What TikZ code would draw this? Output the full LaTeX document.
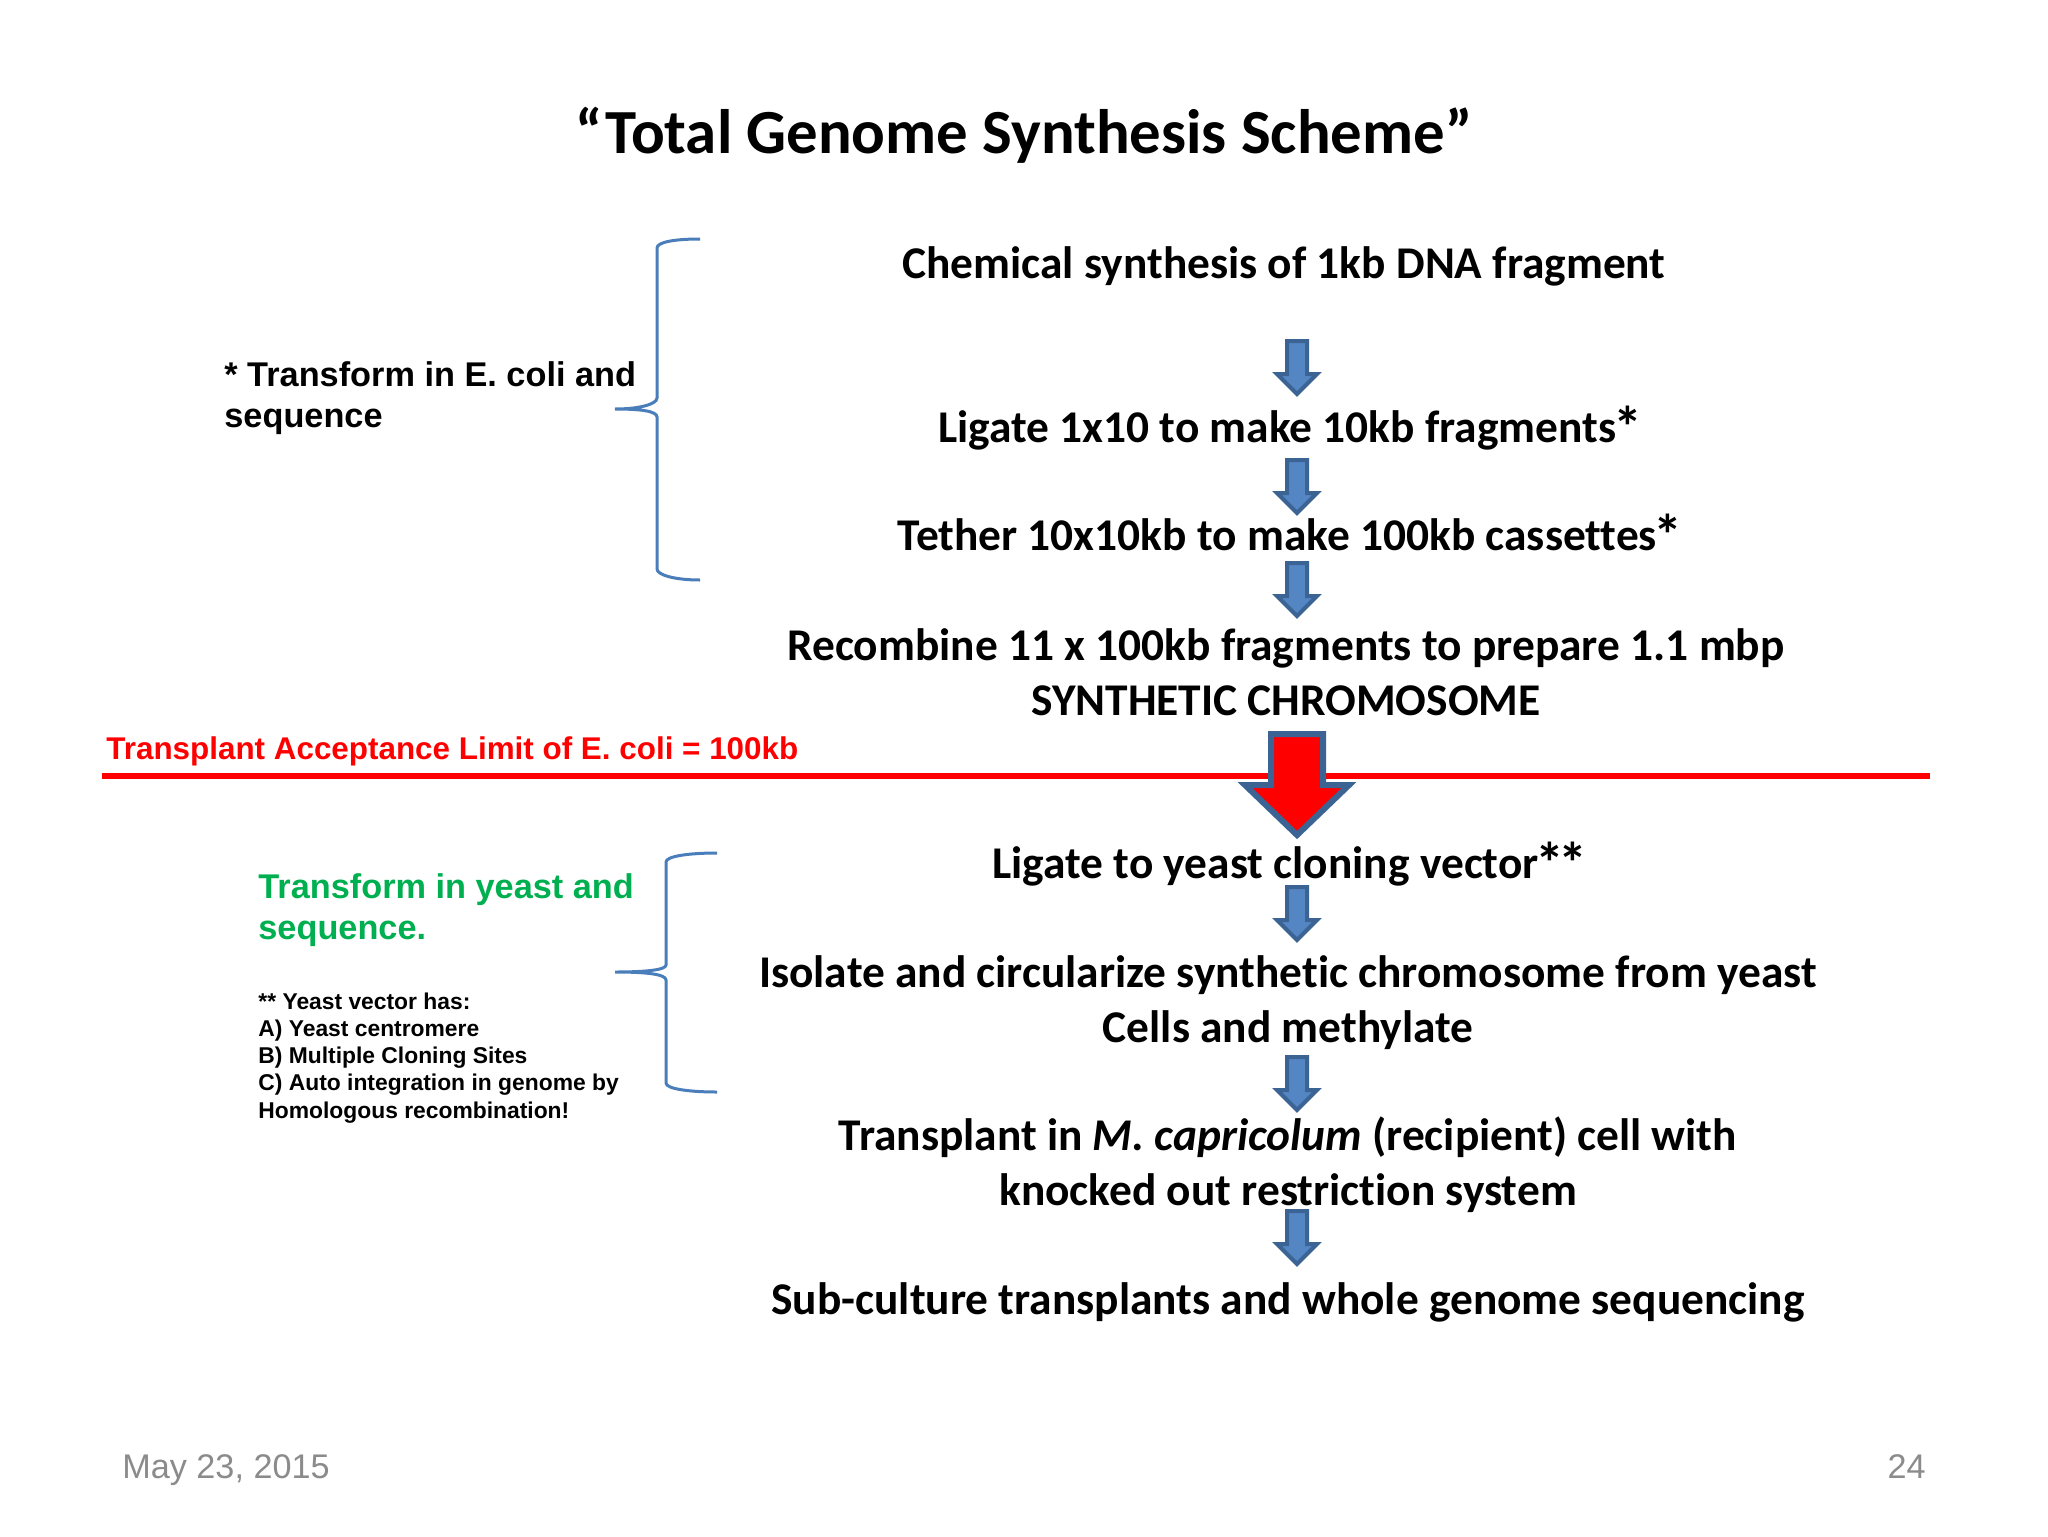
\documentclass[tikz,border=0pt]{standalone}
\usepackage{fontspec}
\setmainfont{Carlito}[Ligatures=CommonOff]
\setsansfont{Liberation Sans}
\definecolor{arrowblue}{HTML}{5586C4}
\definecolor{arrowedge}{HTML}{3B6495}
\definecolor{bracketblue}{HTML}{4A7EBB}
\definecolor{greentxt}{HTML}{00B050}
\definecolor{footgray}{HTML}{8B8B8B}
\newcommand{\bigast}{\kern-0.07em\raisebox{-0.12em}{\fontsize{29}{29}\selectfont *}\kern-0.05em}
\tikzset{
  steptext/.style={font=\fontsize{22.7}{27.5}\bfseries\selectfont, align=center, anchor=base, text=black, inner sep=0pt},
  sidetext/.style={font=\sffamily\bfseries\fontsize{17.15}{20.5}\selectfont, align=left, anchor=base west, inner sep=0pt},
  smalltext/.style={font=\sffamily\bfseries\fontsize{11.42}{13.6}\selectfont, align=left, anchor=base west, inner sep=0pt},
  foot/.style={font=\sffamily\fontsize{17.1}{20}\selectfont, text=footgray, inner sep=0pt},
  smallarrow/.style={draw=arrowedge, line width=2pt, fill=arrowblue, miter limit=10},
  bigarrow/.style={draw=arrowedge, line width=3pt, fill=red, miter limit=10},
  bracket/.style={draw=bracketblue, line width=1.5pt},
}
\newcommand{\smallarr}[2]{%
  \path[smallarrow] (#1-10,#2+2) -- (#1+10,#2+2) -- (#1+10,#2+35) -- (#1+20,#2+35) -- (#1,#2+55) -- (#1-20,#2+35) -- (#1-10,#2+35) -- cycle;}
\begin{document}
\begin{tikzpicture}[x=0.5pt,y=-0.5pt]
\useasboundingbox (0,0) rectangle (2048,1536);
\fill[white] (0,0) rectangle (2048,1536);

\node[font=\fontsize{31.4}{38}\bfseries\selectfont, anchor=base, inner sep=0pt] (title) at (1024,154) {“Total Genome Synthesis Scheme”};

\node[steptext] (s1) at (1284,278) {Chemical synthesis of 1kb DNA fragment};
\node[steptext] (s2) at (1289,442) {Ligate 1x10 to make 10kb fragments\bigast};
\node[steptext] (s3) at (1289,550) {Tether 10x10kb to make 100kb cassettes\bigast};
\node[steptext] (s4) at (1286,715) {Recombine 11 x 100kb fragments to prepare 1.1 mbp\\SYNTHETIC CHROMOSOME};
\node[steptext] (s5) at (1289,878) {Ligate to yeast cloning vector\bigast\bigast};
\node[steptext] (s6) at (1288,1042) {Isolate and circularize synthetic chromosome from yeast\\Cells and methylate};
\node[steptext] (s7) at (1288,1205) {Transplant in \textit{M. capricolum} (recipient) cell with\\knocked out restriction system};
\node[steptext] (s8) at (1288,1314) {Sub-culture transplants and whole genome sequencing};

\smallarr{1297}{339}
\smallarr{1297}{458}
\smallarr{1297}{561}
\smallarr{1297}{885}
\smallarr{1297}{1055}
\smallarr{1297}{1209}

\draw[red, line width=3pt] (102,776) coordinate (lineL) -- (1930,776) coordinate (lineR);
\path[bigarrow] (1271,734) -- (1323,734) -- (1323,785) -- (1349,785) -- (1297,835) -- (1245,785) -- (1271,785) -- cycle;

\node[font=\sffamily\bfseries\fontsize{15.7}{19}\selectfont, text=red, anchor=base west, inner sep=0pt] (limit) at (106,759) {Transplant Acceptance Limit of E. coli = 100kb};

\node[sidetext] (t1) at (224,427) {* Transform in E. coli and\\sequence};
\node[sidetext, text=greentxt] (t2) at (258,939) {Transform in yeast and\\sequence.};
\node[smalltext] (t3) at (258,1118) {** Yeast vector has:\\A) Yeast centromere\\B) Multiple Cloning Sites\\C) Auto integration in genome by\\Homologous recombination!};

\coordinate (b1t) at (700,239);
\coordinate (b1m) at (615,409);
\coordinate (b1b) at (700,580);
\path[bracket] (b1t) .. controls (675,239) and (657,242) .. (657,248) -- (657,398)
  .. controls (657,404) and (640,409) .. (b1m) .. controls (640,409) and (657,411) .. (657,417) -- (657,569)
  .. controls (657,575) and (675,580) .. (b1b);

\coordinate (b2t) at (717,853);
\coordinate (b2m) at (615,972);
\coordinate (b2b) at (717,1092);
\path[bracket] (b2t) .. controls (690,853) and (666,856) .. (666,862) -- (666,965)
  .. controls (666,970) and (645,972) .. (b2m) .. controls (645,972) and (666,974) .. (666,980) -- (666,1083)
  .. controls (666,1089) and (690,1092) .. (b2b);

\node[foot, anchor=base west] (date) at (122,1478) {May 23, 2015};
\node[foot, anchor=base east] (page) at (1926,1478) {24};
\end{tikzpicture}
\end{document}
